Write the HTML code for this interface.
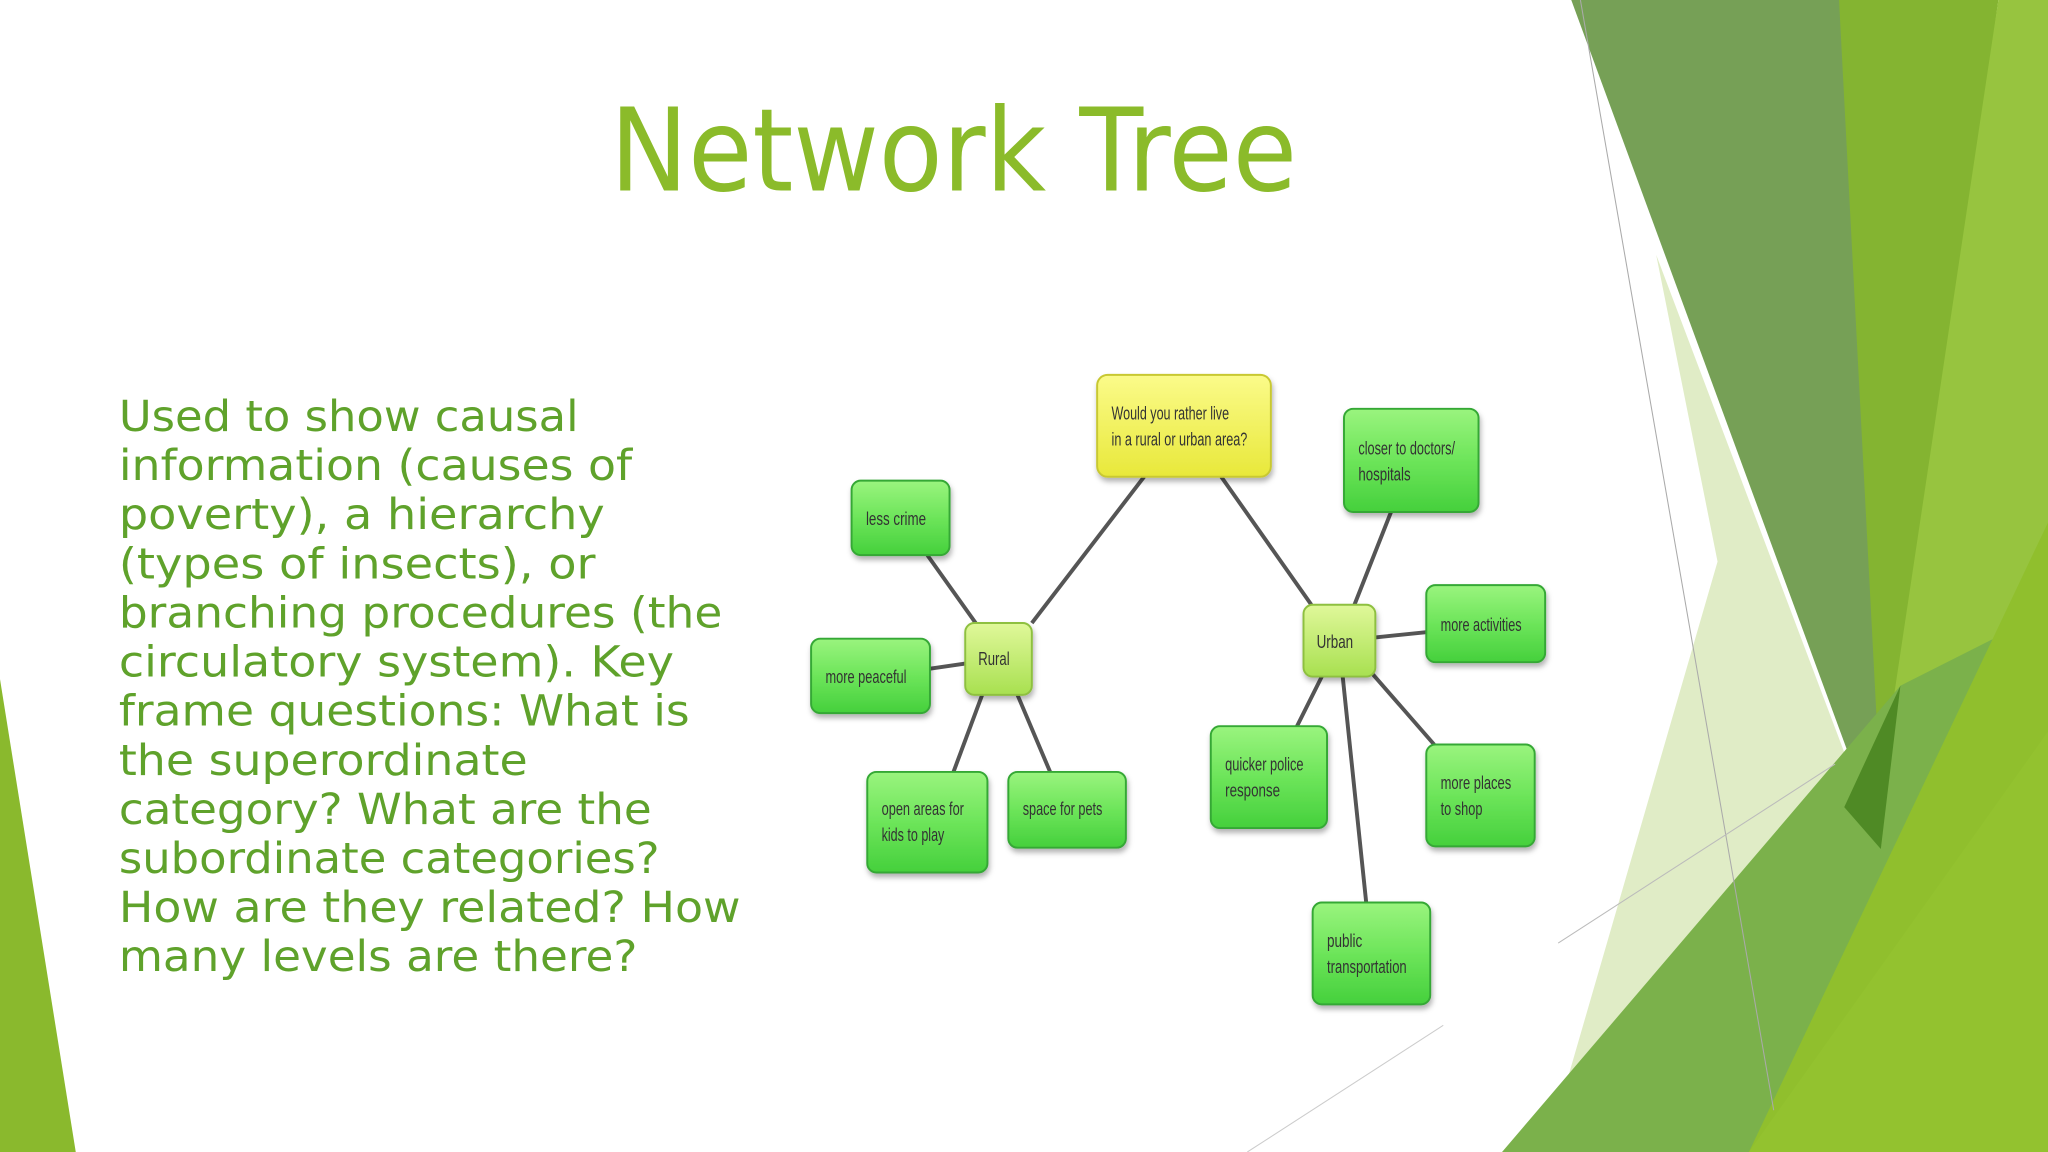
<!DOCTYPE html>
<html><head><meta charset="utf-8"><style>
html,body{margin:0;padding:0;background:#fff;width:2048px;height:1152px;overflow:hidden}
svg{display:block}
.b{font-family:"DejaVu Sans","Liberation Sans",sans-serif;font-size:33px;fill:#5fa22b}
.n{font-family:"Liberation Sans",sans-serif;font-size:14px;fill:#333}
</style></head><body>
<svg width="2048" height="1152" viewBox="0 0 1568 882" xmlns="http://www.w3.org/2000/svg">
<defs>
<linearGradient id="g" x1="0" y1="0" x2="0" y2="1"><stop offset="0" stop-color="#9af47e"/><stop offset="0.5" stop-color="#6de55a"/><stop offset="1" stop-color="#45d03c"/></linearGradient>
<linearGradient id="y" x1="0" y1="0" x2="0" y2="1"><stop offset="0" stop-color="#fbfb8a"/><stop offset="1" stop-color="#e8e83a"/></linearGradient>
<linearGradient id="l" x1="0" y1="0" x2="0" y2="1"><stop offset="0" stop-color="#e0f89a"/><stop offset="1" stop-color="#a8e050"/></linearGradient>
<filter id="s" x="-20%" y="-20%" width="140%" height="150%"><feDropShadow dx="1" dy="3" stdDeviation="2" flood-color="#000" flood-opacity="0.3"/></filter>
</defs>
<rect width="1568" height="882" fill="#fff"/>
<!-- decorations -->
<polygon points="0,520 58,882 0,882" fill="#8ab92d"/>
<polygon points="1268,195 1440,650 1199,830 1315,430" fill="#e0ecc6"/>
<polygon points="1203,0 1410,0 1442,650" fill="#76a056"/>
<polygon points="1408,0 1530,0 1442,650" fill="#84b431"/>
<polygon points="1530,0 1568,0 1568,882 1425,882 1422,720" fill="#97c43f"/>
<polygon points="1150,882 1455,525 1568,468 1568,882" fill="#7bb14b"/>
<polygon points="1455,525 1412,618 1440,650" fill="#4f8a25"/>
<polygon points="1339,882 1568,400 1568,882" fill="#90bf2d"/>
<polygon points="1339,882 1568,560 1568,882" fill="#93c22f"/>
<line x1="1210" y1="0" x2="1358" y2="850" stroke="#aaa" stroke-width="0.8"/>
<line x1="1193" y1="722" x2="1405" y2="585" stroke="#bbb" stroke-width="0.8"/>
<line x1="955" y1="882" x2="1105" y2="785" stroke="#ccc" stroke-width="0.8"/>
<!-- title -->
<text x="730" y="146" text-anchor="middle" font-family="DejaVu Sans,'Liberation Sans',sans-serif" font-size="88" fill="#8bbb2a" textLength="526" lengthAdjust="spacingAndGlyphs">Network Tree</text>
<!-- body -->
<g class="b">
<text x="91" y="330" textLength="352" lengthAdjust="spacingAndGlyphs">Used to show causal</text>
<text x="91" y="367.6" textLength="393" lengthAdjust="spacingAndGlyphs">information (causes of</text>
<text x="91" y="405.2" textLength="372" lengthAdjust="spacingAndGlyphs">poverty), a hierarchy</text>
<text x="91" y="442.8" textLength="365" lengthAdjust="spacingAndGlyphs">(types of insects), or</text>
<text x="91" y="480.4" textLength="462" lengthAdjust="spacingAndGlyphs">branching procedures (the</text>
<text x="91" y="518" textLength="425" lengthAdjust="spacingAndGlyphs">circulatory system). Key</text>
<text x="91" y="555.6" textLength="437" lengthAdjust="spacingAndGlyphs">frame questions: What is</text>
<text x="91" y="593.2" textLength="313" lengthAdjust="spacingAndGlyphs">the superordinate</text>
<text x="91" y="630.8" textLength="408" lengthAdjust="spacingAndGlyphs">category? What are the</text>
<text x="91" y="668.4" textLength="414" lengthAdjust="spacingAndGlyphs">subordinate categories?</text>
<text x="91" y="706" textLength="476" lengthAdjust="spacingAndGlyphs">How are they related? How</text>
<text x="91" y="743.6" textLength="397" lengthAdjust="spacingAndGlyphs">many levels are there?</text>
</g>
<!-- connectors -->
<g stroke="#555" stroke-width="3" fill="none">
<line x1="876" y1="365" x2="790" y2="477"/>
<line x1="935" y1="365" x2="1004" y2="463"/>
<line x1="710" y1="425" x2="747" y2="477"/>
<line x1="712" y1="512" x2="739" y2="508"/>
<line x1="752" y1="532" x2="730" y2="591"/>
<line x1="779" y1="532" x2="804" y2="591"/>
<line x1="1065" y1="392" x2="1037" y2="463"/>
<line x1="1053" y1="488" x2="1092" y2="484"/>
<line x1="1012" y1="518" x2="993" y2="556"/>
<line x1="1050" y1="515" x2="1098" y2="570"/>
<line x1="1028" y1="518" x2="1046" y2="691"/>
</g>
<!-- nodes -->
<g filter="url(#s)" stroke-width="1.5">
<rect x="840" y="287" width="133" height="78" rx="8" fill="url(#y)" stroke="#c8c830"/>
<rect x="652" y="368" width="75" height="57" rx="7" fill="url(#g)" stroke="#35a835"/>
<rect x="621" y="489" width="91" height="57" rx="7" fill="url(#g)" stroke="#35a835"/>
<rect x="739" y="477" width="51" height="55" rx="7" fill="url(#l)" stroke="#8ec040"/>
<rect x="664" y="591" width="92" height="77" rx="7" fill="url(#g)" stroke="#35a835"/>
<rect x="772" y="591" width="90" height="58" rx="7" fill="url(#g)" stroke="#35a835"/>
<rect x="998" y="463" width="55" height="55" rx="7" fill="url(#l)" stroke="#8ec040"/>
<rect x="1029" y="313" width="103" height="79" rx="7" fill="url(#g)" stroke="#35a835"/>
<rect x="1092" y="448" width="91" height="59" rx="7" fill="url(#g)" stroke="#35a835"/>
<rect x="927" y="556" width="89" height="78" rx="7" fill="url(#g)" stroke="#35a835"/>
<rect x="1092" y="570" width="83" height="78" rx="7" fill="url(#g)" stroke="#35a835"/>
<rect x="1005" y="691" width="90" height="78" rx="7" fill="url(#g)" stroke="#35a835"/>
</g>
<g class="n">
<text x="851" y="321" textLength="90" lengthAdjust="spacingAndGlyphs">Would you rather live</text>
<text x="851" y="341" textLength="104" lengthAdjust="spacingAndGlyphs">in a rural or urban area?</text>
<text x="663" y="402" textLength="46" lengthAdjust="spacingAndGlyphs">less crime</text>
<text x="632" y="523" textLength="62" lengthAdjust="spacingAndGlyphs">more peaceful</text>
<text x="749" y="509" textLength="24" lengthAdjust="spacingAndGlyphs">Rural</text>
<text x="675" y="624" textLength="63" lengthAdjust="spacingAndGlyphs">open areas for</text>
<text x="675" y="644" textLength="48" lengthAdjust="spacingAndGlyphs">kids to play</text>
<text x="783" y="624" textLength="61" lengthAdjust="spacingAndGlyphs">space for pets</text>
<text x="1008" y="496" textLength="28" lengthAdjust="spacingAndGlyphs">Urban</text>
<text x="1040" y="348" textLength="74" lengthAdjust="spacingAndGlyphs">closer to doctors/</text>
<text x="1040" y="368" textLength="40" lengthAdjust="spacingAndGlyphs">hospitals</text>
<text x="1103" y="483" textLength="62" lengthAdjust="spacingAndGlyphs">more activities</text>
<text x="938" y="590" textLength="60" lengthAdjust="spacingAndGlyphs">quicker police</text>
<text x="938" y="610" textLength="42" lengthAdjust="spacingAndGlyphs">response</text>
<text x="1103" y="604" textLength="54" lengthAdjust="spacingAndGlyphs">more places</text>
<text x="1103" y="624" textLength="32" lengthAdjust="spacingAndGlyphs">to shop</text>
<text x="1016" y="725" textLength="27" lengthAdjust="spacingAndGlyphs">public</text>
<text x="1016" y="745" textLength="61" lengthAdjust="spacingAndGlyphs">transportation</text>
</g>
</svg>
</body></html>
